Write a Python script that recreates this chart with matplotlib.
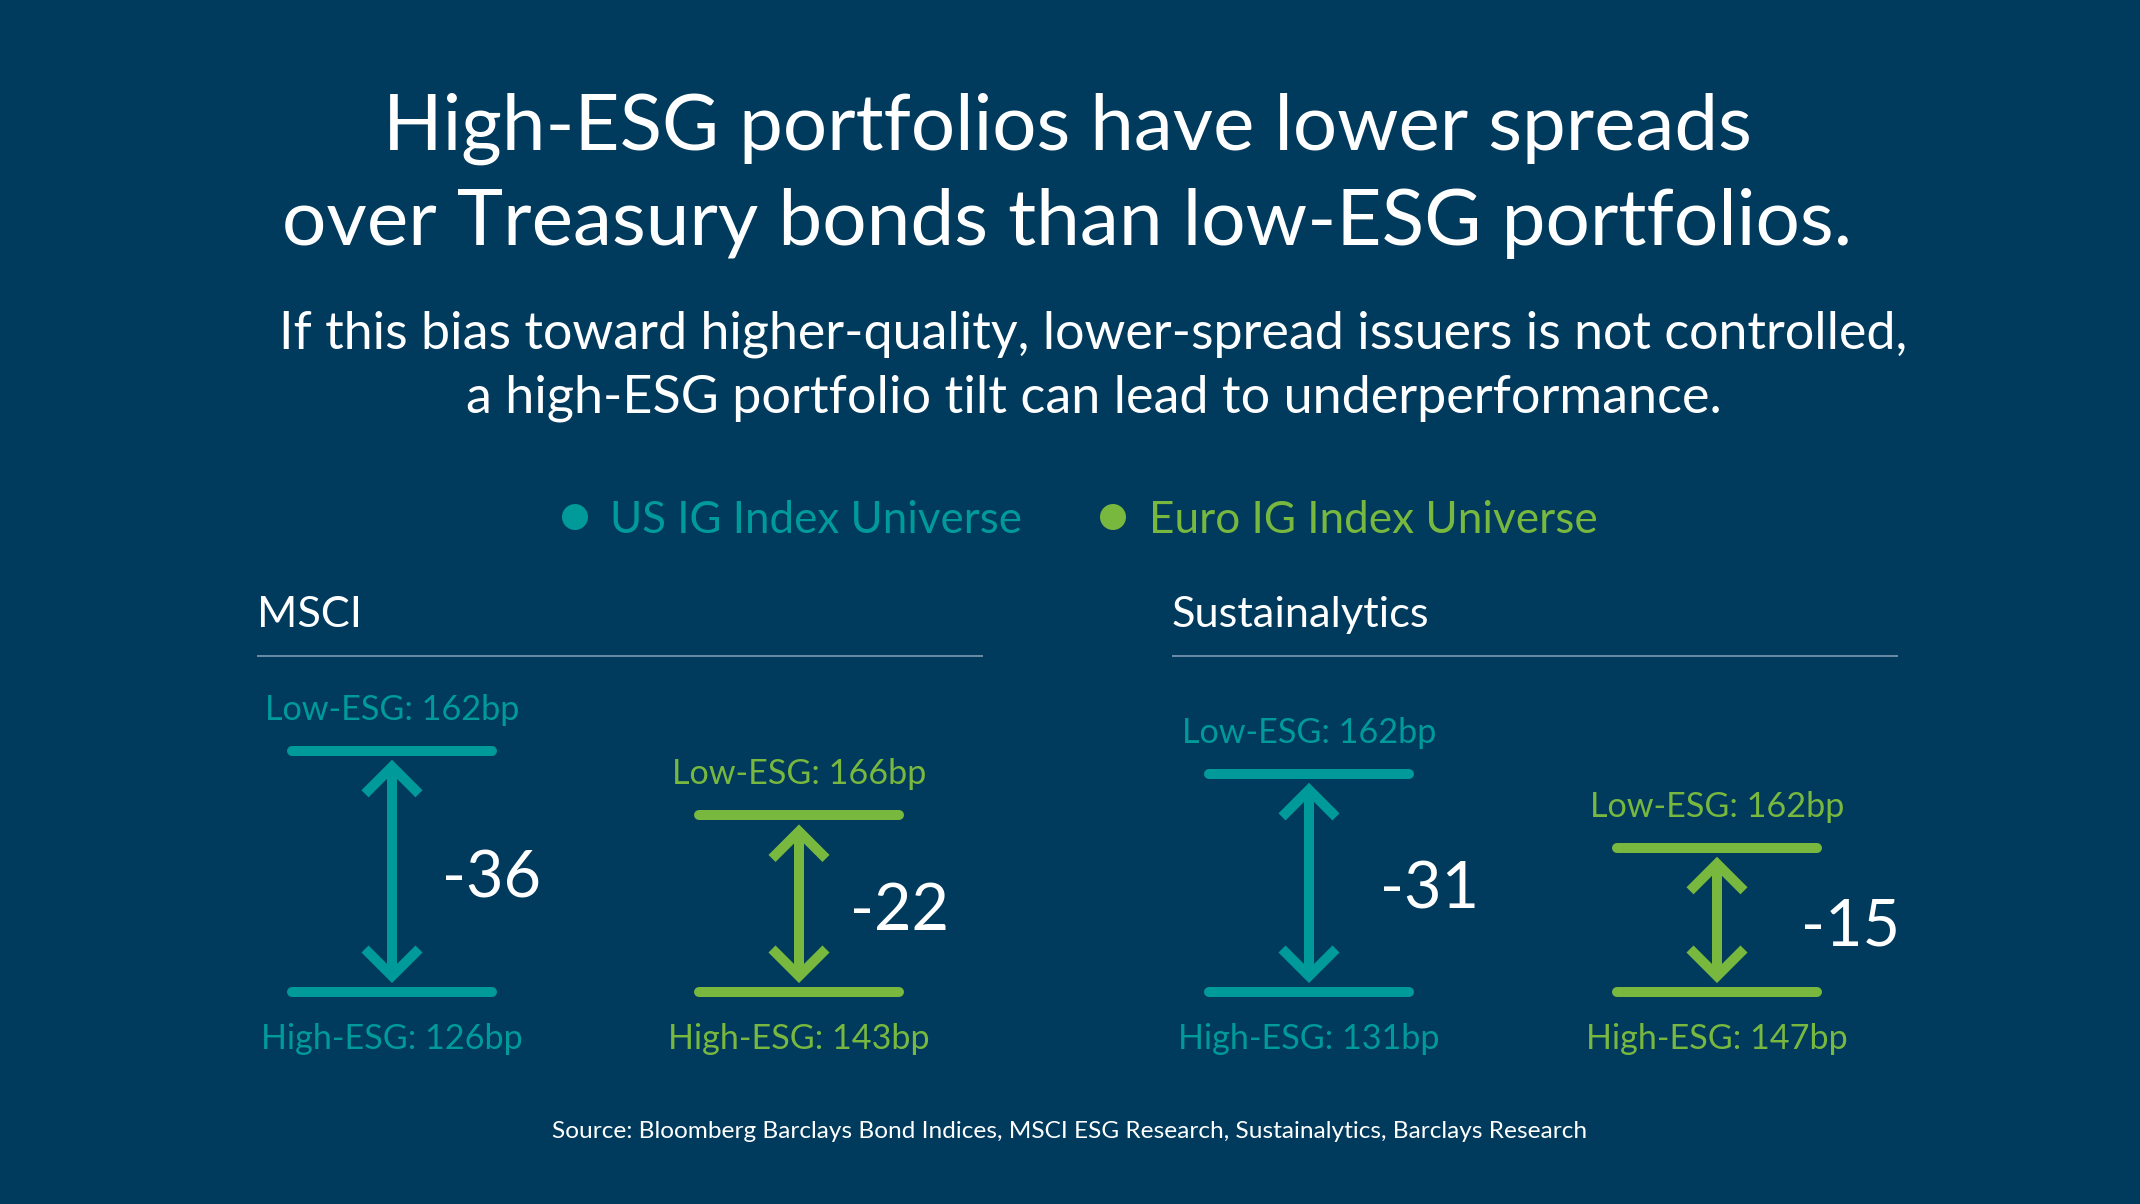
import matplotlib
matplotlib.use("Agg")
import matplotlib.pyplot as plt

# ---------------- data ----------------
providers = ["MSCI", "Sustainalytics"]
universes = ["US IG Index Universe", "Euro IG Index Universe"]
item_provider = [0, 0, 1, 1]
item_universe = [0, 1, 0, 1]
low_esg = [162, 166, 162, 162]
high_esg = [126, 143, 131, 147]
spread_diff = [-36, -22, -31, -15]

title_lines = ["High-ESG portfolios have lower spreads",
               "over Treasury bonds than low-ESG portfolios."]
subtitle_lines = ["If this bias toward higher-quality, lower-spread issuers is not controlled,",
                  "a high-ESG portfolio tilt can lead to underperformance."]
source_text = ("Source: Bloomberg Barclays Bond Indices, MSCI ESG Research, "
               "Sustainalytics, Barclays Research")

# ---------------- style ----------------
BG = "#003A5D"
TEAL = "#009A9A"
GREEN = "#78B83F"
RULE = "#8DA4BC"
WHITE = "#FFFFFF"
uni_colors = [TEAL, GREEN]

plt.rcParams['font.family'] = ['Lato', 'DejaVu Sans']

W, H = 2140, 1204
fig = plt.figure(figsize=(W / 100, H / 100), dpi=100, facecolor=BG)
r = fig.canvas.get_renderer()

pix = fig.add_axes([0, 0, 1, 1])
pix.set_xlim(0, W)
pix.set_ylim(H, 0)
pix.axis('off')

PX = 100 / 72.0  # px per point


def fit(t, target_w):
    w = t.get_window_extent(r).width
    t.set_fontsize(t.get_fontsize() * target_w / w)
    return t.get_fontsize()


def put(x, y, s, target_w, ha='center', color=WHITE, fs=30):
    t = pix.text(x, y, s, ha=ha, va='baseline', color=color, fontsize=fs)
    fit(t, target_w)
    return t


# titles
put(1067, 150, title_lines[0], 1368)
put(1067, 245, title_lines[1], 1570)
put(1093, 348, subtitle_lines[0], 1627)
put(1094, 412, subtitle_lines[1], 1255)

# legend
leg_dot_x = [575, 1113]
leg_txt_x = [610, 1149]
leg_txt_w = [411, 448]
for i, name in enumerate(universes):
    pix.scatter([leg_dot_x[i]], [517], s=(26 / PX) ** 2, color=uni_colors[i],
                edgecolors='none', zorder=3)
    put(leg_txt_x[i], 533, name, leg_txt_w[i], ha='left', color=uni_colors[i])

# provider headers and rules
hdr_x = [257, 1172]
rule_x1 = [983, 1898]
t_s = pix.text(hdr_x[1], 627, providers[1], ha='left', va='baseline', color=WHITE, fontsize=30)
hfs = fit(t_s, 258)
pix.text(hdr_x[0], 627, providers[0], ha='left', va='baseline', color=WHITE, fontsize=hfs)
for i in range(2):
    pix.plot([hdr_x[i], rule_x1[i]], [656, 656], color=RULE, lw=1.5 / PX,
             solid_capstyle='butt')

# source
put(1070, 1138, source_text, 1031)

# ---------------- chart ----------------
PX_PER_UNIT = 4.62
BASE_PX = 992
PAD_UNITS = 74.9 / PX_PER_UNIT
ch = fig.add_axes([0, 0, 1, 1])
ch.set_xlim(0, W)
ch.set_ylim((BASE_PX - H) / PX_PER_UNIT, BASE_PX / PX_PER_UNIT)
ch.axis('off')
ch.patch.set_alpha(0)

centers = [392, 799, 1309, 1717]
num_dx = [50, 51, 71, 84]
half = 100
u = 1.0 / PX_PER_UNIT  # units per px

# label font sizes
tmp = ch.text(0, 0, "Low-ESG: 162bp", fontsize=30)
lab_fs = fit(tmp, 254)
tmp.remove()
tmp = ch.text(0, 0, "-36", fontsize=50)
num_fs = fit(tmp, 99)
tmp.remove()

for i, cx in enumerate(centers):
    col = uni_colors[item_universe[i]]
    top = abs(spread_diff[i]) + PAD_UNITS
    for yv in (0, top):
        ch.plot([cx - half, cx + half], [yv, yv], color=col, lw=10 / PX,
                solid_capstyle='round')
    vt = top - 16 * u
    vb = 0 + 16 * u
    ch.plot([cx, cx], [vb, vt], color=col, lw=10 / PX, solid_capstyle='butt')
    ch.plot([cx - 27, cx, cx + 27], [vt - 27 * u, vt, vt - 27 * u], color=col,
            lw=10 / PX, solid_capstyle='butt', solid_joinstyle='miter')
    ch.plot([cx - 27, cx, cx + 27], [vb + 27 * u, vb, vb + 27 * u], color=col,
            lw=10 / PX, solid_capstyle='butt', solid_joinstyle='miter')
    ch.annotate(f"Low-ESG: {low_esg[i]}bp", xy=(cx, top), xytext=(0, 31 / PX),
                textcoords='offset points', ha='center', va='baseline',
                color=col, fontsize=lab_fs)
    ch.annotate(f"High-ESG: {high_esg[i]}bp", xy=(cx, 0), xytext=(0, -57 / PX),
                textcoords='offset points', ha='center', va='baseline',
                color=col, fontsize=lab_fs)
    ch.annotate(f"{spread_diff[i]}", xy=(cx, top / 2), xytext=(num_dx[i] / PX, -26 / PX),
                textcoords='offset points', ha='left', va='baseline',
                color=WHITE, fontsize=num_fs)

fig.savefig("out.png", dpi=100, facecolor=BG)
